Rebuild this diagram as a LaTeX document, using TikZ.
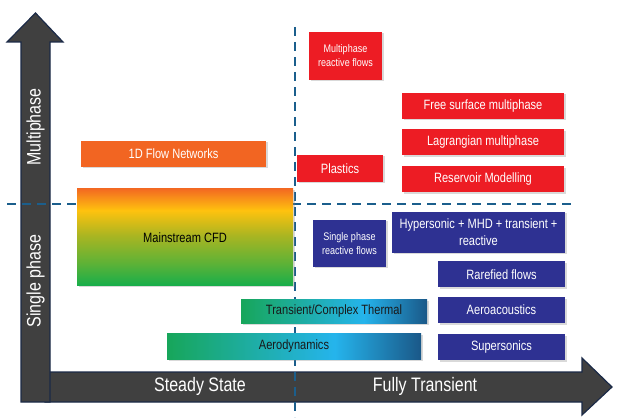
\documentclass[tikz,border=0pt]{standalone}
\usepackage{fontspec}
\setmainfont{Liberation Sans}[FakeStretch=0.82]
\usepackage{tikz}
\usetikzlibrary{shadows}

\definecolor{boxred}{HTML}{ED1C24}
\definecolor{boxnavy}{HTML}{2E3192}
\definecolor{boxorange}{HTML}{F26522}
\definecolor{axisgray}{HTML}{404040}
\definecolor{axisedge}{HTML}{1B2A47}
\definecolor{splitblue}{HTML}{1B5E8C}
\definecolor{thgreen}{HTML}{17A65A}
\definecolor{thcyan}{HTML}{25B4EC}
\definecolor{thblue}{HTML}{1A5888}
\definecolor{cfdgreen}{HTML}{16AE4B}
\definecolor{cfdlime}{HTML}{5FB236}
\definecolor{cfdolive}{HTML}{A9B522}
\definecolor{cfdyellow}{HTML}{FFC20E}
\definecolor{cfdorange}{HTML}{F36B21}

\pgfdeclareverticalshading{cfdshade}{100bp}{color(0bp)=(cfdgreen); color(25bp)=(cfdgreen); color(37bp)=(cfdlime); color(51bp)=(cfdolive); color(64bp)=(cfdyellow); color(75bp)=(cfdorange); color(100bp)=(cfdorange)}
\pgfdeclarehorizontalshading{thermshade}{100bp}{color(0bp)=(thgreen); color(25bp)=(thgreen); color(58bp)=(thcyan); color(75bp)=(thblue); color(100bp)=(thblue)}

\begin{document}
\begin{tikzpicture}[x=1pt,y=-1pt]
  \tikzset{axis/.style = {fill=axisgray,draw=axisedge,line width=1.2pt,line join=miter}}
  \tikzset{axislabel/.style = {text=white,font=\fontsize{19.5}{22}\selectfont}}
  \tikzset{split/.style = {draw=splitblue,line width=2.3pt,dash pattern=on 9pt off 6pt}}
  \tikzset{box/.style = {minimum height=26,inner sep=2pt,align=center,text=white,
      font=\fontsize{13.5}{17}\selectfont,
      drop shadow={opacity=.3,shadow xshift=1.5pt,shadow yshift=-1.5pt}}}
  \tikzset{redbox/.style = {box,fill=boxred}}
  \tikzset{navybox/.style = {box,fill=boxnavy}}
  \tikzset{small/.style = {font=\fontsize{11}{14}\selectfont}}

  \useasboundingbox (0,0) rectangle (623,419);

  % axes
  \draw[axis] (45,372) -- (582,372) -- (582,358) -- (612,387) -- (582,415)
    -- (582,402) -- (45,402) -- cycle;
  \draw[axis] (21,402) -- (21,42) -- (7,42) -- (35.5,13) -- (63,42)
    -- (50,42) -- (50,402) -- cycle;

	\node[axislabel] (steady) at (200,386) {Steady State};
	\node[axislabel] (transient) at (425,386) {Fully Transient};
	\node[axislabel,rotate=90] (multi) at (35.5,127) {Multiphase};
	\node[axislabel,rotate=90] (single) at (35.5,281) {Single phase};

  \draw[split] (295,27) -- (295,417);
  \draw[split] (7,204) -- (573,204);

  % steady / mixed
	\node[box,fill=boxorange,minimum width=185] (flownet) at (173.5,154) {1D Flow Networks};
	\node[box,shade,shading=cfdshade,text=black,minimum width=216,minimum height=97] (cfd) at (185,237.5) {Mainstream CFD};
	\node[box,shade,shading=thermshade,text=black!90,minimum width=186,minimum height=24] (thermal) at (334,311) {Transient/Complex Thermal};
	\node[box,shade,shading=thermshade,text=black!90,minimum width=254] (aero) at (294,346) {Aerodynamics};

  % multiphase
	\node[redbox,small,minimum width=73,minimum height=48] (mpreact) at (345.5,56) {Multiphase\\reactive flows};
	\node[redbox,minimum width=86,minimum height=27] (plastics) at (340,168.5) {Plastics};
       \foreach \name/\y/\txt in {freesurf/106/Free surface multiphase,
         lagrange/142.5/Lagrangian multiphase, reservoir/179.5/Reservoir Modelling}
    \node[redbox,minimum width=162] (\name) at (483,\y) {\txt};

  % single phase
	\node[navybox,small,minimum width=73,minimum height=47] (spreact) at (349.5,243.5) {Single phase\\reactive flows};
	\node[navybox,minimum width=173,minimum height=41] (hyper) at (478.5,232.5) {Hypersonic + MHD + transient +\\reactive};
       \foreach \name/\y/\txt in {rarefied/274.5/Rarefied flows,
         aeroacoustics/310/Aeroacoustics, supersonics/347/Supersonics}
    \node[navybox,minimum width=127] (\name) at (501.5,\y) {\txt};
\end{tikzpicture}
\end{document}
